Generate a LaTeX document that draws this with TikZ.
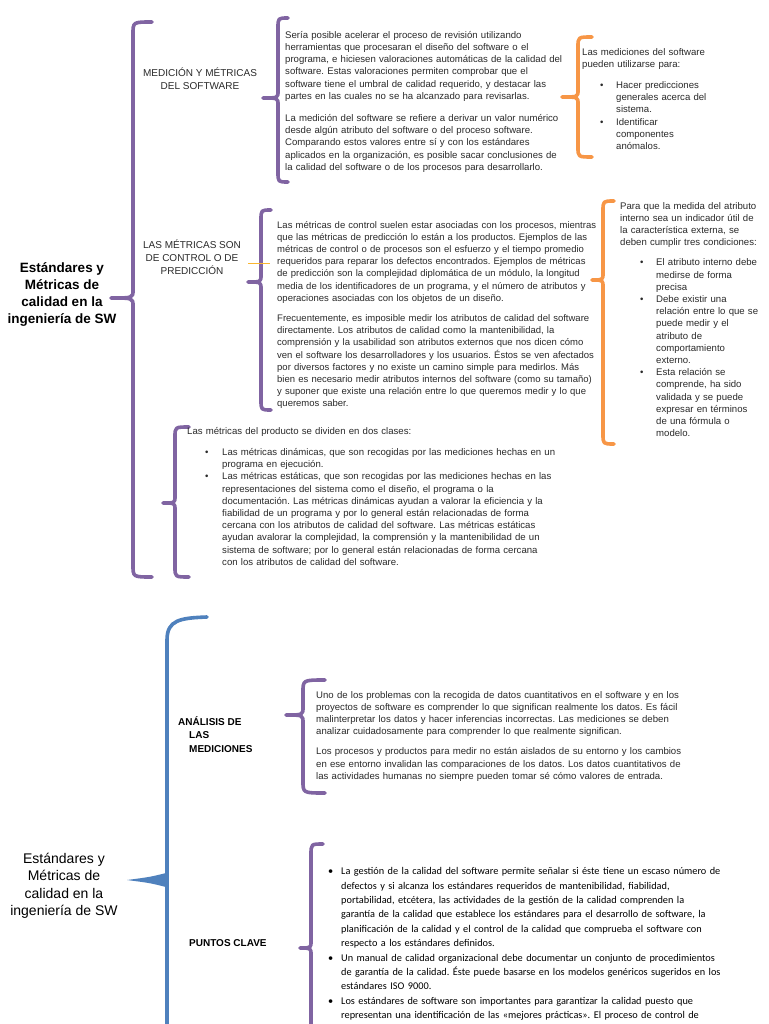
\documentclass[tikz,border=0pt]{standalone}
\usepackage{fontspec}
\setmainfont{Liberation Sans}
\newfontfamily\calibri{Carlito}
\definecolor{morado}{HTML}{8064A2}
\definecolor{naranja}{HTML}{F79646}
\definecolor{azul}{HTML}{4F81BD}
\definecolor{gristexto}{HTML}{2A2A2A}
\setlength{\parindent}{0pt}
\newcommand{\vineta}[2]{\par\hangindent=#2\hangafter=1\noindent\hspace*{#1}\makebox[\dimexpr#2-#1\relax][l]{\textbullet}}
\newcommand{\salto}{\hfil\break}

\begin{document}
\frenchspacing
\begin{tikzpicture}[x=1pt, y=-1pt, every node/.style={inner sep=0pt, text=gristexto},
	parrafo/.style={anchor=north west, text width=#1, font=\fontsize{9.6}{12.2}\selectfont},
	tema/.style={align=center, font=\fontsize{10}{13}\selectfont},
	etiqueta/.style={anchor=north west, align=left, font=\bfseries\fontsize{10}{13.5}\selectfont, text=black},
	titulo/.style={align=center, font=\bfseries\fontsize{13.5}{17}\selectfont, text=black},
	llave/.style={line width=3.6pt, line cap=round, line join=round}]
	\useasboundingbox (0,0) rectangle (768,1024);
	\fill[white] (0,0) rectangle (768,1024);
	\clip (0,0) rectangle (768,1024);
	% primera parte
	\node[titulo] (titulo1) at (62,294) {Estándares y\\Métricas de\\calidad en la\\ingeniería de SW};
	\draw[llave, morado] (152,22) .. controls (133,22) .. (133,34) -- (133,290) .. controls (133,298) .. (111,298) .. controls (133,298) .. (133,306) -- (133,565) .. controls (133,577) .. (152,577);
	% medicion y metricas
	\node[tema] (medicion) at (200,79) {MEDICIÓN Y MÉTRICAS\\DEL SOFTWARE};
	\draw[llave, morado] (288,18) .. controls (278,18) .. (278,28) -- (278,91) .. controls (278,98) .. (263,98) .. controls (278,98) .. (278,105) -- (278,172) .. controls (278,182) .. (288,182);
	\node[parrafo=300pt] (revision) at (285,31) {Sería posible acelerar el proceso de revisión utilizando\\
		herramientas que procesaran el diseño del software o el\\
		programa, e hiciesen valoraciones automáticas de la calidad del\\
		software. Estas valoraciones permiten comprobar que el\\
		software tiene el umbral de calidad requerido, y destacar las\\
		partes en las cuales no se ha alcanzado para revisarlas.\par\vspace{10pt}
		La medición del software se refiere a derivar un valor numérico\\
		desde algún atributo del software o del proceso software.\\
		Comparando estos valores entre sí y con los estándares\\
		aplicados en la organización, es posible sacar conclusiones de\\
		la calidad del software o de los procesos para desarrollarlo.};
	\draw[llave, naranja] (592,37) .. controls (578,37) .. (578,47) -- (578,90) .. controls (578,97) .. (562,97) .. controls (578,97) .. (578,104) -- (578,147) .. controls (578,157) .. (592,157);
	\node[parrafo=160pt] (usos) at (582,48) {Las mediciones del software\\pueden utilizarse para:\par\vspace{9pt}
		\vineta{18pt}{34pt}Hacer predicciones\salto generales acerca del\salto sistema.
		\vineta{18pt}{34pt}Identificar\salto componentes\salto anómalos.\par};
	% control o prediccion
	\node[tema] (control) at (192,257) {LAS MÉTRICAS SON\\DE CONTROL O DE\\PREDICCIÓN};
	\draw[llave, morado] (271,210) .. controls (261,210) .. (261,220) -- (261,275) .. controls (261,282) .. (248,282) .. controls (261,282) .. (261,289) -- (261,400) .. controls (261,410) .. (271,410);
	\draw[naranja!70!yellow, line width=0.8pt] (248,263) -- (270,263);
	\node[parrafo=340pt, font=\fontsize{9.5}{12.2}\selectfont] (procesos) at (277,221) {Las métricas de control suelen estar asociadas con los procesos, mientras\\
		que las métricas de predicción lo están a los productos. Ejemplos de las\\
		métricas de control o de procesos son el esfuerzo y el tiempo promedio\\
		requeridos para reparar los defectos encontrados. Ejemplos de métricas\\
		de predicción son la complejidad diplomática de un módulo, la longitud\\
		media de los identificadores de un programa, y el número de atributos y\\
		operaciones asociadas con los objetos de un diseño.\par\vspace{8pt}
		Frecuentemente, es imposible medir los atributos de calidad del software\\
		directamente. Los atributos de calidad como la mantenibilidad, la\\
		comprensión y la usabilidad son atributos externos que nos dicen cómo\\
		ven el software los desarrolladores y los usuarios. Éstos se ven afectados\\
		por diversos factores y no existe un camino simple para medirlos. Más\\
		bien es necesario medir atributos internos del software (como su tamaño)\\
		y suponer que existe una relación entre lo que queremos medir y lo que\\
		queremos saber.};
	\draw[llave, naranja] (614,201) .. controls (603,201) .. (603,211) -- (603,273) .. controls (603,280) .. (592,280) .. controls (603,280) .. (603,287) -- (603,434) .. controls (603,444) .. (614,444);
	\node[parrafo=150pt] (condiciones) at (620,202) {Para que la medida del atributo\\interno sea un indicador útil de\\la característica externa, se\\deben cumplir tres condiciones:\par\vspace{8pt}
		\vineta{20pt}{36pt}El atributo interno debe\salto medirse de forma\salto precisa
		\vineta{20pt}{36pt}Debe existir una\salto relación entre lo que se\salto puede medir y el\salto atributo de\salto comportamiento\salto externo.
		\vineta{20pt}{36pt}Esta relación se\salto comprende, ha sido\salto validada y se puede\salto expresar en términos\salto de una fórmula o\salto modelo.\par};
	% metricas del producto
	\draw[llave, morado] (189,427) .. controls (175,427) .. (175,437) -- (175,496) .. controls (175,503) .. (163,503) .. controls (175,503) .. (175,510) -- (175,567) .. controls (175,577) .. (189,577);
	\node[parrafo=380pt] (producto) at (187,427) {Las métricas del producto se dividen en dos clases:\par\vspace{9pt}
		\vineta{18pt}{35pt}Las métricas dinámicas, que son recogidas por las mediciones hechas en un\salto
		programa en ejecución.
		\vineta{18pt}{35pt}Las métricas estáticas, que son recogidas por las mediciones hechas en las\salto
		representaciones del sistema como el diseño, el programa o la\salto
		documentación. Las métricas dinámicas ayudan a valorar la eficiencia y la\salto
		fiabilidad de un programa y por lo general están relacionadas de forma\salto
		cercana con los atributos de calidad del software. Las métricas estáticas\salto
		ayudan avalorar la complejidad, la comprensión y la mantenibilidad de un\salto
		sistema de software; por lo general están relacionadas de forma cercana\salto
		con los atributos de calidad del software.\par};
	% segunda parte
	\node[titulo, font=\fontsize{14}{17.5}\selectfont] (titulo2) at (64,886) {Estándares y\\Métricas de\\calidad en la\\ingeniería de SW};
	\draw[llave, azul] (207,617) .. controls (180,618) and (167,620) .. (167,640) -- (167,1040);
	\fill[azul] (166,873) .. controls (150,877) .. (127,880) .. controls (150,883) .. (166,887) -- cycle;
	% analisis de las mediciones
	\node[etiqueta] (analisis) at (178,716) {ANÁLISIS DE\\\hspace*{11pt}LAS\\\hspace*{11pt}MEDICIONES};
	\draw[llave, morado] (325,680) .. controls (303,680) .. (303,692) -- (303,707) .. controls (303,715) .. (286,715) .. controls (303,715) .. (303,723) -- (303,781) .. controls (303,793) .. (325,793);
	\node[parrafo=380pt] (problemas) at (316,691) {Uno de los problemas con la recogida de datos cuantitativos en el software y en los\\
		proyectos de software es comprender lo que significan realmente los datos. Es fácil\\
		malinterpretar los datos y hacer inferencias incorrectas. Las mediciones se deben\\
		analizar cuidadosamente para comprender lo que realmente significan.\par\vspace{8pt}
		Los procesos y productos para medir no están aislados de su entorno y los cambios\\
		en ese entorno invalidan las comparaciones de los datos. Los datos cuantitativos de\\
		las actividades humanas no siempre pueden tomar sé cómo valores de entrada.};
	% puntos clave
	\node[etiqueta] (clave) at (189,939) {PUNTOS CLAVE};
	\draw[llave, morado] (323,844) .. controls (311,844) .. (311,855) -- (311,941) .. controls (311,948) .. (300,948) .. controls (311,948) .. (311,955) -- (311,1040);
	\node[parrafo=420pt, font=\calibri\fontsize{10.3}{14.4}\selectfont, text=black] (gestion) at (323,860) {\vineta{5pt}{18pt}La gestión de la calidad del software permite señalar si éste tiene un escaso número de\salto
		defectos y si alcanza los estándares requeridos de mantenibilidad, fiabilidad,\salto
		portabilidad, etcétera, las actividades de la gestión de la calidad comprenden la\salto
		garantía de la calidad que establece los estándares para el desarrollo de software, la\salto
		planificación de la calidad y el control de la calidad que comprueba el software con\salto
		respecto a los estándares definidos.
		\vineta{5pt}{18pt}Un manual de calidad organizacional debe documentar un conjunto de procedimientos\salto
		de garantía de la calidad. Éste puede basarse en los modelos genéricos sugeridos en los\salto
		estándares ISO 9000.
		\vineta{5pt}{18pt}Los estándares de software son importantes para garantizar la calidad puesto que\salto
		representan una identificación de las «mejores prácticas». El proceso de control de\salto
		calidad implica verificar que el proceso y el producto de software se ajustan a estos estándares.\par};
\end{tikzpicture}
\end{document}
